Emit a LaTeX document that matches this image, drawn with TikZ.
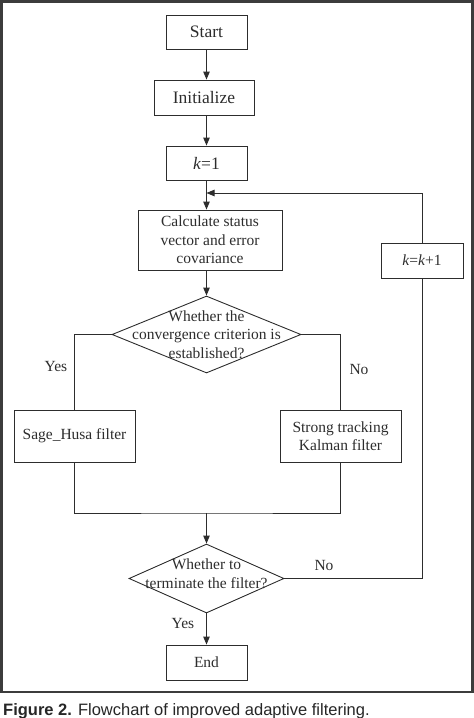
\documentclass[tikz,border=0pt]{standalone}
\usepackage{fontspec}
\setmainfont{Liberation Serif}
\setsansfont{Liberation Sans}
\usetikzlibrary{positioning,arrows.meta,calc,shapes.geometric}
\definecolor{inkgray}{RGB}{45,45,45}
\definecolor{framegray}{RGB}{60,60,60}
\newcommand{\bigtxt}{\fontsize{17.5}{21}\selectfont}
\newcommand{\smalltxt}{\fontsize{15.5}{18.6}\selectfont}

\begin{document}
\begin{tikzpicture}[x=1pt,y=-1pt,
  box/.style={draw=inkgray,line width=.9pt,inner sep=0pt,align=center,text=inkgray},
  decision/.style={diamond,draw=inkgray,line width=.9pt,inner sep=0pt},
  flow/.style={-{Triangle[length=8pt,width=6.5pt]},draw=inkgray,line width=.9pt},
  link/.style={draw=inkgray,line width=.9pt},
  tag/.style={inner sep=0pt,font=\smalltxt,text=inkgray}]
  \useasboundingbox (0,0) rectangle (474,718);
  \draw[framegray,line width=2.6pt] (1.3,1.3) rectangle (472.7,692);

  % main column
  \node[box,font=\bigtxt,minimum width=81,minimum height=34] (start) at (206.5,32) {Start};
  \node[box,font=\bigtxt,minimum width=100,minimum height=35] (init) at (204,97.5) {Initialize};
  \node[box,font=\bigtxt,minimum width=81,minimum height=34] (k1) at (206.5,163) {\textit{k}=1};
  \node[box,font=\smalltxt,minimum width=144,minimum height=60] (calc) at (210,240)
     {Calculate status\\vector and error\\covariance};
  \node[decision,minimum width=189,minimum height=77] (conv) at (206.5,334.5) {};
  \node[tag,align=center] (convtxt) at (conv) {Whether the\\convergence criterion is\\established?};
  \node[box,font=\smalltxt,minimum width=121,minimum height=52] (sage) at (74.5,436) {Sage\_Husa filter};
  \node[box,font=\smalltxt,minimum width=121,minimum height=52] (stkf) at (340.5,436)
     {Strong tracking\\Kalman filter};
  \node[decision,minimum width=155,minimum height=69] (term) at (206.5,578.5) {};
  \node[tag,align=center] (termtxt) at ($(term)+(0,-5)$) {Whether to\\terminate the filter?};
  \node[box,font=\smalltxt,minimum width=81,minimum height=35] (fin) at (206.5,662.5) {End};
  \node[box,font=\smalltxt,minimum width=82,minimum height=35] (kinc) at (422,260.5) {\textit{k}=\textit{k}+1};

  \coordinate (merge) at (206.5,513);
  \coordinate (back) at (206.5,193);

  % labels
  \node[tag] (yes1) at (56,366) {Yes};
  \node[tag] (no1) at (359,369) {No};
  \node[tag] (no2) at (324,565) {No};
  \node[tag] (yes2) at (183,623) {Yes};

  % connectors
  \draw[flow] (start.south) -- (start.south |- init.north);
  \draw[flow] (start.south |- init.south) -- (k1);
  \draw[flow] (k1.south) -- (k1.south |- calc.north);
  \draw[flow] (k1.south |- calc.south) -- (conv.north);
  \draw[link] (conv.west) -| (sage.north);
  \draw[link] (conv.east) -| (stkf.north);
  \draw[link] (sage.south) |- (merge) -| (stkf.south);
  \draw[flow] (merge) -- (term.north);
  \draw[flow] (term.south) -- (fin.north);
  \draw[link] (term.east) -| (kinc.south);
  \draw[flow] (kinc.north) |- (back);

  % caption
  \node[anchor=base west,inner sep=0pt,text=black!85,
        font=\sffamily\fontsize{16.5}{19}\selectfont] (caption) at (3,715)
     {\textbf{Figure 2.} Flowchart of improved adaptive filtering.};
\end{tikzpicture}
\end{document}
